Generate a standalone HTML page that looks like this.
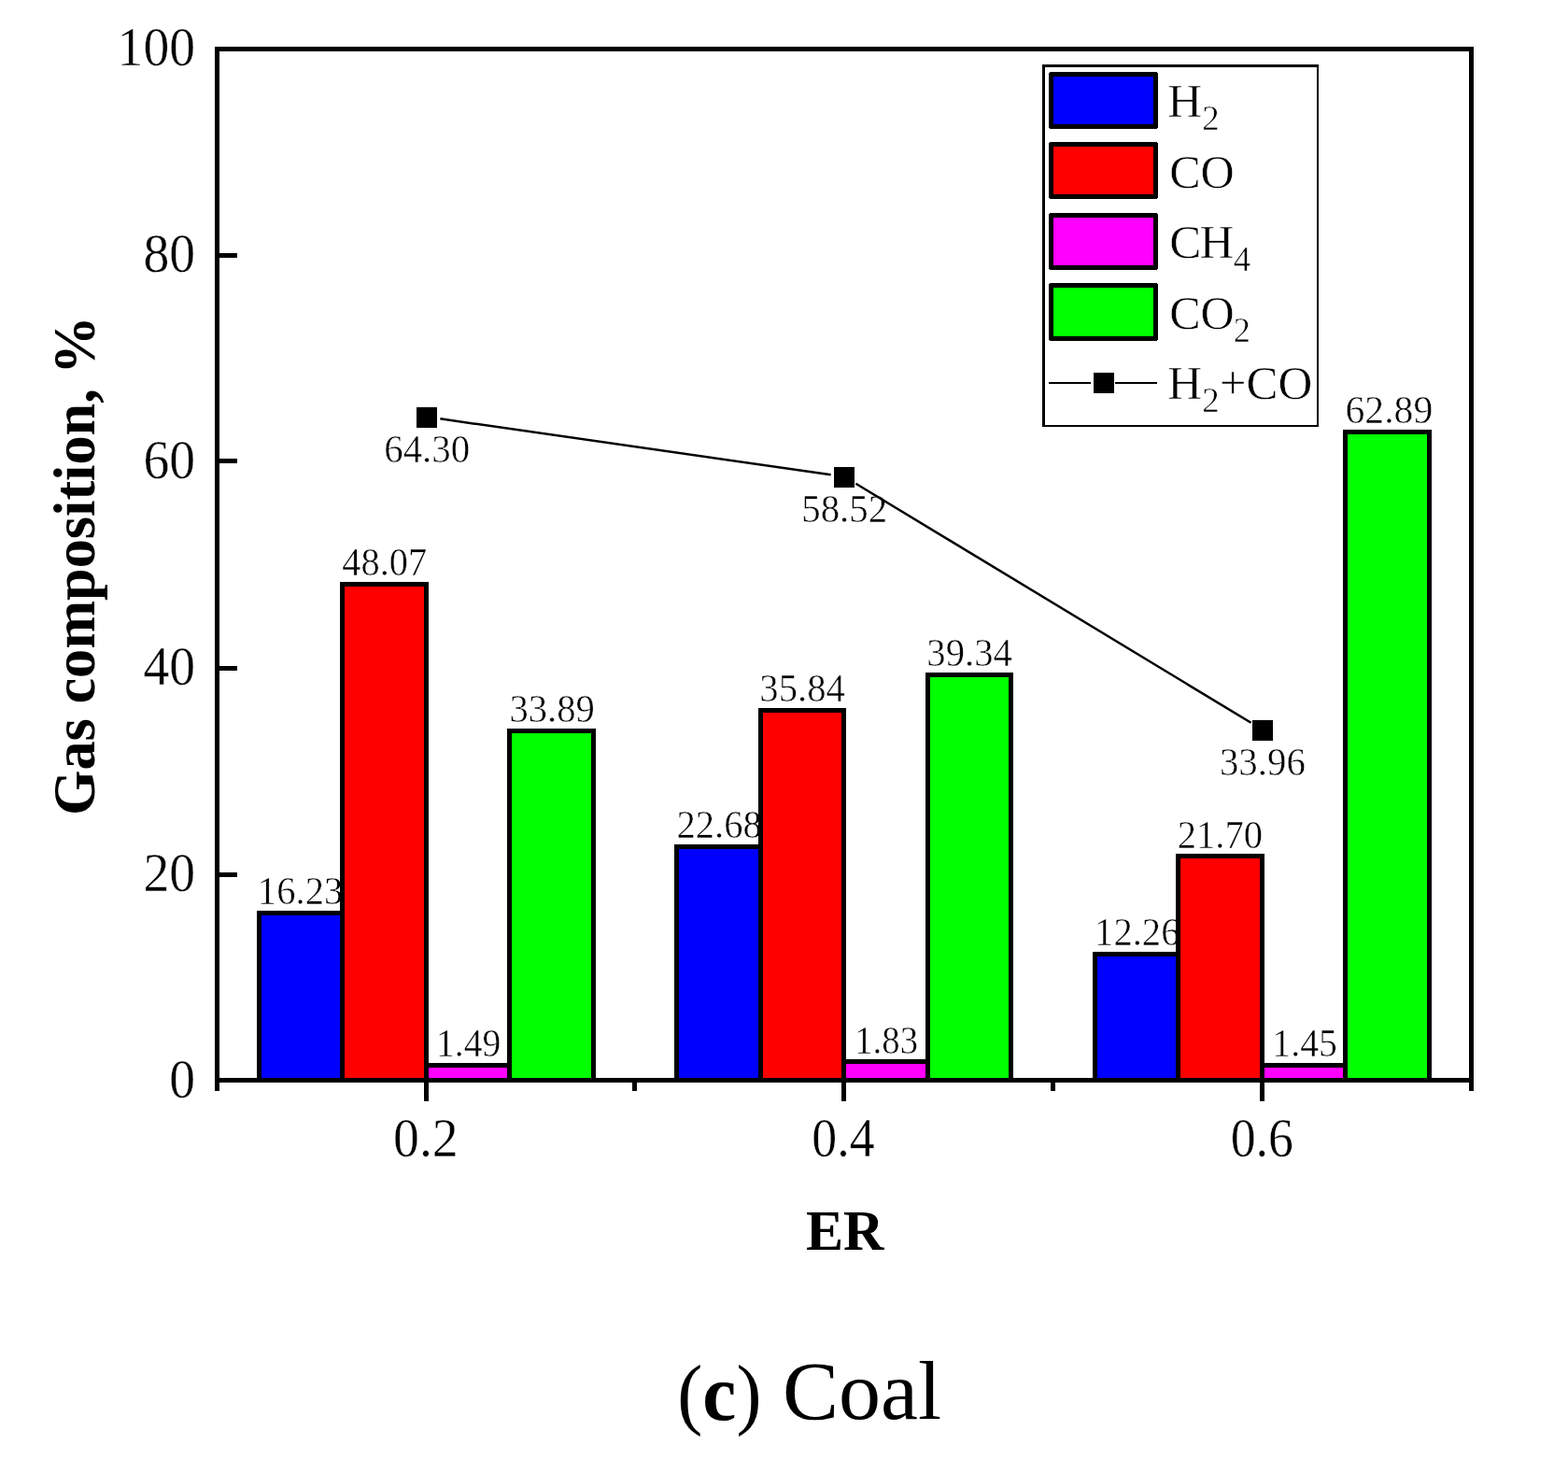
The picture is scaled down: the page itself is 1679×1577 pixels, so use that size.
<!DOCTYPE html>
<html lang="en"><head><meta charset="utf-8"><title>(c) Coal</title>
<style>html,body{margin:0;padding:0;background:#fff}body{width:1679px;height:1577px;overflow:hidden}svg{display:block}text{font-family:"Liberation Serif","Times New Roman",Times,serif;fill:#000}.g{shape-rendering:crispEdges}</style></head><body>
<svg width="1679" height="1577" viewBox="0 0 1679 1577" role="img" aria-label="Gas composition versus ER for coal">
<rect width="1679" height="1577" fill="#fff"/>
<text transform="translate(275.87,968.20) scale(0.9406,1)" font-size="43.20" stroke="#fff" stroke-width="0.50">16.23</text>
<text transform="translate(366.23,616.40) scale(0.9356,1)" font-size="43.20" stroke="#fff" stroke-width="0.50">48.07</text>
<text transform="translate(467.10,1130.70) scale(0.9157,1)" font-size="43.20" stroke="#fff" stroke-width="0.50">1.49</text>
<text transform="translate(545.38,773.10) scale(0.9406,1)" font-size="43.20" stroke="#fff" stroke-width="0.50">33.89</text>
<text transform="translate(724.48,897.10) scale(0.9406,1)" font-size="43.20" stroke="#fff" stroke-width="0.50">22.68</text>
<text transform="translate(813.37,751.10) scale(0.9406,1)" font-size="43.20" stroke="#fff" stroke-width="0.50">35.84</text>
<text transform="translate(915.27,1127.50) scale(0.8958,1)" font-size="43.20" stroke="#fff" stroke-width="0.50">1.83</text>
<text transform="translate(992.37,713.10) scale(0.9406,1)" font-size="43.20" stroke="#fff" stroke-width="0.50">39.34</text>
<text transform="translate(1172.07,1012.10) scale(0.9406,1)" font-size="43.20" stroke="#fff" stroke-width="0.50">12.26</text>
<text transform="translate(1260.68,908.10) scale(0.9406,1)" font-size="43.20" stroke="#fff" stroke-width="0.50">21.70</text>
<text transform="translate(1362.30,1130.80) scale(0.9207,1)" font-size="43.20" stroke="#fff" stroke-width="0.50">1.45</text>
<text transform="translate(1440.47,453.10) scale(0.9655,1)" font-size="43.20" stroke="#fff" stroke-width="0.50">62.89</text>
<g class="g">
<rect x="277.5" y="977.5" width="89.0" height="179.0" fill="#0000ff" stroke="#000" stroke-width="5"/>
<rect x="366.5" y="625.5" width="90.0" height="531.0" fill="#ff0000" stroke="#000" stroke-width="5"/>
<rect x="456.5" y="1140.5" width="89.0" height="16.0" fill="#ff00ff" stroke="#000" stroke-width="5"/>
<rect x="545.5" y="782.5" width="90.0" height="374.0" fill="#00ff00" stroke="#000" stroke-width="5"/>
<rect x="724.5" y="906.5" width="90.0" height="250.0" fill="#0000ff" stroke="#000" stroke-width="5"/>
<rect x="814.5" y="760.5" width="89.0" height="396.0" fill="#ff0000" stroke="#000" stroke-width="5"/>
<rect x="903.5" y="1136.5" width="90.0" height="20.0" fill="#ff00ff" stroke="#000" stroke-width="5"/>
<rect x="993.5" y="722.5" width="89.0" height="434.0" fill="#00ff00" stroke="#000" stroke-width="5"/>
<rect x="1172.5" y="1021.5" width="89.0" height="135.0" fill="#0000ff" stroke="#000" stroke-width="5"/>
<rect x="1261.5" y="916.5" width="90.0" height="240.0" fill="#ff0000" stroke="#000" stroke-width="5"/>
<rect x="1351.5" y="1140.5" width="89.0" height="16.0" fill="#ff00ff" stroke="#000" stroke-width="5"/>
<rect x="1440.5" y="462.5" width="90.0" height="694.0" fill="#00ff00" stroke="#000" stroke-width="5"/>
<rect x="232.5" y="52.5" width="1343" height="1104" fill="none" stroke="#000" stroke-width="5"/>
<rect x="235" y="271.0" width="19" height="5" fill="#000"/>
<rect x="235" y="491.0" width="19" height="5" fill="#000"/>
<rect x="235" y="713.0" width="19" height="5" fill="#000"/>
<rect x="235" y="934.0" width="19" height="5" fill="#000"/>
<rect x="454.0" y="1159" width="5" height="20" fill="#000"/>
<rect x="901.0" y="1159" width="5" height="20" fill="#000"/>
<rect x="1349.0" y="1159" width="5" height="20" fill="#000"/>
<rect x="230.0" y="1159" width="5" height="9" fill="#000"/>
<rect x="677.0" y="1159" width="5" height="9" fill="#000"/>
<rect x="1125.0" y="1159" width="5" height="9" fill="#000"/>
<rect x="1573.0" y="1159" width="5" height="9" fill="#000"/>
</g>
<text transform="translate(411.24,494.90) scale(0.9456,1)" font-size="43.20" stroke="#fff" stroke-width="0.50">64.30</text>
<text transform="translate(858.24,558.90) scale(0.9456,1)" font-size="43.20" stroke="#fff" stroke-width="0.50">58.52</text>
<text transform="translate(1305.94,829.90) scale(0.9456,1)" font-size="43.20" stroke="#fff" stroke-width="0.50">33.96</text>
<line x1="471.35" y1="448.36" x2="889.65" y2="508.24" stroke="#000" stroke-width="2.5"/>
<line x1="916.41" y1="517.80" x2="1339.59" y2="773.80" stroke="#000" stroke-width="2.5"/>
<g class="g">
<rect x="446.0" y="436.0" width="22" height="22" fill="#000"/>
<rect x="893.0" y="500.0" width="22" height="22" fill="#000"/>
<rect x="1341.0" y="771.0" width="22" height="22" fill="#000"/>
</g>
<text transform="translate(125.58,69.80) scale(0.9350,1)" font-size="59.50" stroke="#fff" stroke-width="0.40">100</text>
<text transform="translate(153.39,290.80) scale(0.9350,1)" font-size="59.50" stroke="#fff" stroke-width="0.40">80</text>
<text transform="translate(153.39,511.90) scale(0.9350,1)" font-size="59.50" stroke="#fff" stroke-width="0.40">60</text>
<text transform="translate(153.39,732.90) scale(0.9350,1)" font-size="59.50" stroke="#fff" stroke-width="0.40">40</text>
<text transform="translate(153.39,953.90) scale(0.9350,1)" font-size="59.50" stroke="#fff" stroke-width="0.40">20</text>
<text transform="translate(181.21,1174.60) scale(0.9350,1)" font-size="59.50" stroke="#fff" stroke-width="0.40">0</text>
<text transform="translate(421.07,1238.00) scale(0.9370,1)" font-size="59.50" stroke="#fff" stroke-width="0.40">0.2</text>
<text transform="translate(869.27,1238.00) scale(0.9050,1)" font-size="59.50" stroke="#fff" stroke-width="0.40">0.4</text>
<text transform="translate(1317.68,1238.00) scale(0.9050,1)" font-size="59.50" stroke="#fff" stroke-width="0.40">0.6</text>
<text transform="translate(863.00,1338.20) scale(0.9650,1)" font-size="62.30" font-weight="bold">ER</text>
<text transform="translate(101.3,607.0) rotate(-90) scale(0.9735,1)" x="-273.28" y="0" font-size="64" font-weight="bold">Gas composition, %</text>
<g class="g">
<rect x="1116" y="69" width="296" height="388" fill="#000"/>
<rect x="1119" y="72" width="291" height="383" fill="#fff"/>
<rect x="1125.5" y="79.5" width="112" height="56.0" fill="#0000ff" stroke="#000" stroke-width="5" stroke-linejoin="round"/>
<rect x="1125.5" y="154.5" width="112" height="56.0" fill="#ff0000" stroke="#000" stroke-width="5" stroke-linejoin="round"/>
<rect x="1125.5" y="230.5" width="112" height="56.0" fill="#ff00ff" stroke="#000" stroke-width="5" stroke-linejoin="round"/>
<rect x="1125.5" y="305.5" width="112" height="57.0" fill="#00ff00" stroke="#000" stroke-width="5" stroke-linejoin="round"/>
<rect x="1123" y="409" width="45" height="2" fill="#000"/>
<rect x="1194" y="409" width="45" height="2" fill="#000"/>
<rect x="1171" y="399" width="22" height="22" fill="#000"/>
</g>
<text transform="translate(1250.30,125.00) scale(1.0000,1)" font-size="51" stroke="#fff" stroke-width="0.50">H<tspan font-size="37" dy="14">2</tspan></text>
<text transform="translate(1252.20,200.50) scale(0.9820,1)" font-size="51" stroke="#fff" stroke-width="0.50">CO</text>
<text transform="translate(1252.20,276.00) scale(1.0000,1)" font-size="51" stroke="#fff" stroke-width="0.50">C<tspan dx="-1.6">H</tspan><tspan font-size="37" dy="14" dx="-0.6">4</tspan></text>
<text transform="translate(1252.20,351.50) scale(0.9820,1)" font-size="51" stroke="#fff" stroke-width="0.50">CO<tspan font-size="37" dy="14" dx="-1.0">2</tspan></text>
<text transform="translate(1250.30,427.00) scale(1.0000,1)" font-size="51" stroke="#fff" stroke-width="0.50">H<tspan font-size="37" dy="14">2</tspan><tspan dy="-14">+CO</tspan></text>
<text transform="translate(725.35,1519.80) scale(0.9490,1)" font-size="85.50">(<tspan font-weight="bold">c</tspan>)</text>
<text transform="translate(838.00,1519.00) scale(1.0170,1)" font-size="88.50">Coal</text>
</svg></body></html>
